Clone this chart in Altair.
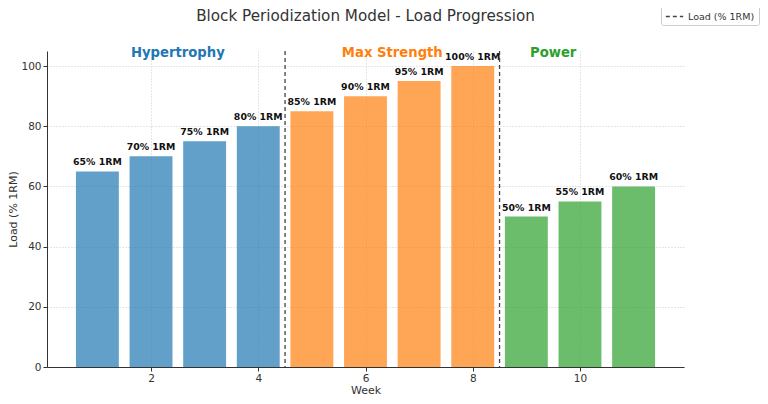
import altair as alt
import pandas as pd

weeks = [1, 2, 3, 4, 5, 6, 7, 8, 9, 10, 11]
loads = [65, 70, 75, 80, 85, 90, 95, 100, 50, 55, 60]
phases = ["Hypertrophy"] * 4 + ["Max Strength"] * 4 + ["Power"] * 3
labels = [f"{v}% 1RM" for v in loads]

phase_names = ["Hypertrophy", "Max Strength", "Power"]
phase_colors = ["#1f77b4", "#ff7f0e", "#2ca02c"]
phase_x = [2.5, 6.5, 9.5]
phase_y = [104.3, 104.3, 104.3]

boundaries = [4.5, 8.5]
boundary_name = "Load (% 1RM)"

df = pd.DataFrame({"week": weeks, "load": loads, "phase": phases, "label": labels})
df["x0"] = df["week"] - 0.4
df["x1"] = df["week"] + 0.4
df["base"] = 0
ph = pd.DataFrame({"phase": phase_names, "x": phase_x, "y": phase_y})
bd = pd.DataFrame({"x": boundaries, "series": [boundary_name] * len(boundaries)})

FONT = "DejaVu Sans"
xscale = alt.Scale(domain=[0.06, 11.94], nice=False, zero=False, padding=0)
yscale = alt.Scale(domain=[0, 105], nice=False, padding=0)
cscale = alt.Scale(domain=phase_names, range=phase_colors)

bars = alt.Chart(df).mark_bar(opacity=0.7).encode(
    x=alt.X("x0:Q", scale=xscale,
            axis=alt.Axis(title="Week", values=[2, 4, 6, 8, 10], format="d",
                          grid=True, gridDash=[1, 2], gridColor="#cccccc",
                          domainColor="#333333", tickColor="#333333", tickSize=4,
                          labelFontSize=10.5, titleFontSize=11, labelColor="#333",
                          titleColor="#333", titleFontWeight="normal", titlePadding=1,
                          labelPadding=2, labelFont=FONT, titleFont=FONT)),
    x2="x1:Q",
    y=alt.Y("load:Q", scale=yscale,
            axis=alt.Axis(title="Load (% 1RM)", values=[0, 20, 40, 60, 80, 100],
                          grid=True, gridDash=[1, 2], gridColor="#cccccc",
                          domainColor="#333333", tickColor="#333333", tickSize=4,
                          labelFontSize=10.5, titleFontSize=11, labelColor="#333",
                          titleColor="#333", titleFontWeight="normal", titlePadding=2,
                          labelPadding=2, labelFont=FONT, titleFont=FONT)),
    y2="base:Q",
    color=alt.Color("phase:N", scale=cscale, legend=None),
)

texts = alt.Chart(df).mark_text(
    baseline="bottom", dy=-4, fontWeight="bold", fontSize=9.4, font=FONT, color="#111"
).encode(x=alt.X("week:Q", scale=xscale), y=alt.Y("load:Q", scale=yscale), text="label:N")

leg = alt.Legend(title=None, orient="none", legendX=614, legendY=-48,
                 symbolType="stroke", symbolSize=300, symbolStrokeWidth=1.3,
                 labelFont=FONT, labelFontSize=9.5, labelColor="#333",
                 strokeColor="#cccccc", padding=4, cornerRadius=2, fillColor="white")

rules = alt.Chart(bd).mark_rule(strokeWidth=1.3).encode(
    x=alt.X("x:Q", scale=xscale),
    stroke=alt.Stroke("series:N", scale=alt.Scale(domain=[boundary_name], range=["#444444"]), legend=leg),
    strokeDash=alt.StrokeDash("series:N", scale=alt.Scale(domain=[boundary_name], range=[[4, 3]]), legend=leg),
)

phase_text = alt.Chart(ph).mark_text(
    fontWeight="bold", fontSize=13.2, font=FONT, baseline="middle"
).encode(
    x=alt.X("x:Q", scale=xscale), y=alt.Y("y:Q", scale=yscale), text="phase:N",
    color=alt.Color("phase:N", scale=cscale, legend=None),
)

chart = alt.layer(bars, texts, rules, phase_text).properties(
    width=637, height=316,
    autosize=alt.AutoSizeParams(type="none"),
    padding={"left": 39, "top": 43, "right": 76, "bottom": 29},
    title=alt.TitleParams("Block Periodization Model - Load Progression", fontSize=15.2,
                          font=FONT, fontWeight="normal", color="#333333", offset=-22,
                          anchor="middle"),
).configure_view(stroke=None)

chart.save("out.html", embed_options={"renderer": "svg", "actions": False})
